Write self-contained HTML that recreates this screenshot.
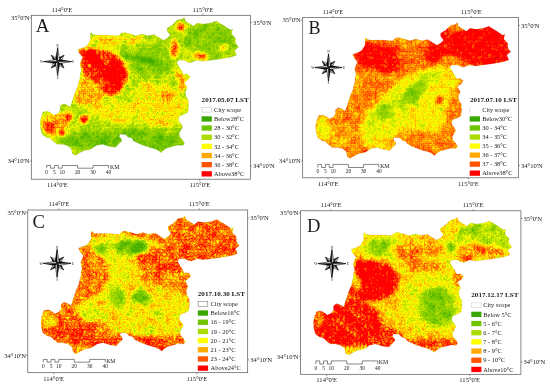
<!DOCTYPE html>
<html><head><meta charset="utf-8"><title>LST maps</title>
<style>html,body{margin:0;padding:0;background:#fff}svg{display:block}text{font-family:"Liberation Serif",serif;fill:#1a1a1a}</style>
</head><body>
<svg width="550" height="388" viewBox="0 0 550 388">
<rect width="550" height="388" fill="#fff"/>
<clipPath id="cA"><path d="M90.3,33.7 L91.3,32.6 L92.5,34.5 L96.4,35.1 L106.4,35.1 L118.5,35.7 L121.5,33.1 L124.5,32.5 L130.5,34.1 L136.0,35.7 L142.1,34.1 L148.1,35.7 L154.1,34.5 L158.2,37.1 L163.2,40.2 L167.2,38.2 L170.2,35.1 L167.2,31.1 L167.2,28.1 L172.2,25.1 L177.3,20.1 L182.7,19.0 L184.2,17.2 L185.3,21.1 L190.3,24.1 L193.3,26.1 L197.4,23.1 L203.4,24.1 L210.4,23.1 L216.5,21.1 L219.5,23.1 L224.5,26.1 L230.5,30.1 L232.6,29.1 L231.5,34.1 L235.6,38.2 L235.6,43.2 L238.6,47.2 L234.6,50.2 L236.6,55.2 L230.5,57.3 L224.5,58.3 L218.5,59.3 L210.4,60.3 L202.4,61.3 L196.4,60.3 L190.3,62.7 L187.3,61.9 L184.3,60.3 L178.3,60.3 L176.7,62.7 L179.3,67.3 L181.3,70.3 L183.3,74.3 L187.3,74.3 L190.3,76.4 L188.3,79.4 L184.3,82.4 L185.3,84.0 L187.3,88.0 L185.3,92.1 L186.3,97.1 L188.3,100.1 L188.7,106.1 L187.9,112.2 L184.3,114.2 L179.3,116.2 L178.3,120.2 L179.1,121.8 L181.5,124.5 L182.7,127.3 L180.9,130.0 L179.1,133.6 L180.0,137.3 L182.7,140.0 L184.5,143.6 L182.7,145.5 L178.2,145.1 L172.7,146.4 L166.4,148.2 L162.7,150.9 L160.9,152.7 L159.1,150.9 L154.5,148.7 L149.1,147.3 L143.6,145.5 L138.2,143.3 L133.6,140.9 L131.8,138.2 L128.2,137.3 L125.5,134.5 L120.0,134.2 L119.1,136.4 L120.9,138.2 L121.8,140.9 L119.1,143.6 L115.5,147.3 L109.4,146.4 L102.4,144.3 L96.4,145.4 L90.3,149.4 L84.3,150.4 L80.3,152.4 L75.2,155.4 L72.2,153.4 L71.2,148.4 L67.2,145.4 L62.2,144.3 L57.1,144.3 L53.1,141.3 L50.1,138.3 L46.1,137.3 L42.1,134.3 L40.5,128.3 L40.1,122.2 L41.1,117.2 L43.1,111.8 L47.1,111.2 L50.1,112.2 L54.1,115.2 L58.2,113.2 L60.2,110.2 L60.2,106.1 L63.2,103.7 L67.2,105.1 L70.2,107.1 L71.2,104.1 L73.2,98.1 L75.2,92.1 L77.9,86.0 L79.3,80.0 L80.0,78.0 L80.2,74.0 L81.3,70.3 L79.9,64.3 L81.3,60.3 L82.7,57.3 L79.3,53.2 L77.7,49.6 L84.3,47.2 L87.3,45.2 L90.3,40.2Z"/></clipPath>
<filter id="fA" filterUnits="userSpaceOnUse" x="34.1" y="11.2" width="210.5" height="150.2" color-interpolation-filters="sRGB">
<feGaussianBlur in="SourceGraphic" stdDeviation="2.0" result="b"/>
<feTurbulence type="fractalNoise" baseFrequency="0.7" numOctaves="2" seed="3" result="n"/>
<feColorMatrix in="n" type="matrix" values="1 0 0 0 0 1 0 0 0 0 1 0 0 0 0 0 0 0 0 1" result="n1"/>
<feTurbulence type="fractalNoise" baseFrequency="0.11" numOctaves="3" seed="10" result="m"/>
<feColorMatrix in="m" type="matrix" values="0 1 0 0 0 0 1 0 0 0 0 1 0 0 0 0 0 0 0 1" result="m1"/>
<feComposite in="b" in2="n1" operator="arithmetic" k1="0" k2="1" k3="0.14" k4="-0.0700" result="c1"/>
<feComposite in="c1" in2="m1" operator="arithmetic" k1="0" k2="1" k3="0.22" k4="-0.1100" result="c2"/>
<feTurbulence type="turbulence" baseFrequency="0.25" numOctaves="2" seed="16" result="t"/>
<feColorMatrix in="t" type="matrix" values="-1 0 0 0 1 -1 0 0 0 1 -1 0 0 0 1 0 0 0 0 1" result="t1"/>
<feComposite in="c2" in2="t1" operator="arithmetic" k1="0.6" k2="0.5800" k3="0" k4="0" result="c3"/>
<feComponentTransfer in="c3" result="q"><feFuncR type="table" tableValues="0.220 0.220 0.439 0.671 1.000 1.000 1.000 1.000 1.000 1.000"/><feFuncG type="table" tableValues="0.659 0.659 0.769 0.859 1.000 0.667 0.333 0.000 0.000 0.000"/><feFuncB type="table" tableValues="0.000 0.000 0.000 0.000 0.000 0.000 0.000 0.000 0.000 0.000"/></feComponentTransfer>
<feGaussianBlur in="q" stdDeviation="0.6"/>
</filter>
<g clip-path="url(#cA)"><g filter="url(#fA)"><rect x="24.1" y="1.2" width="230.5" height="170.2" fill="rgb(85,85,85)"/><ellipse cx="210" cy="40" rx="26" ry="17" fill="rgb(67,67,67)"/><ellipse cx="152" cy="62" rx="20" ry="18" fill="rgb(71,71,71)"/><ellipse cx="125" cy="141" rx="66" ry="11" fill="rgb(57,57,57)"/><ellipse cx="105" cy="41" rx="17" ry="6" fill="rgb(122,122,122)"/><ellipse cx="133" cy="40" rx="12" ry="4" fill="rgb(125,125,125)"/><ellipse cx="158" cy="104" rx="27" ry="22" fill="rgb(116,116,116)" transform="rotate(30 158 104)"/><ellipse cx="116" cy="112" rx="20" ry="12" fill="rgb(113,113,113)"/><ellipse cx="165" cy="96" rx="5" ry="3.5" fill="rgb(153,153,153)"/><ellipse cx="82" cy="92" rx="6" ry="13" fill="rgb(150,150,150)" transform="rotate(15 82 92)"/><ellipse cx="78" cy="94" rx="2.5" ry="5" fill="rgb(187,187,187)"/><ellipse cx="91" cy="96" rx="14" ry="13" fill="rgb(130,130,130)"/><polygon points="78,49.6 90.6,48 100.9,50 111.2,52.2 119.5,56.8 124.6,63 127.7,71.2 127.5,80 123,87 118.5,93 111.2,97 105,92.5 98.9,86 92.7,81.5 86.5,77.4 82.4,71.2 80.3,63 80.5,56.8" fill="rgb(190,190,190)"/><ellipse cx="93" cy="60" rx="10" ry="7" fill="rgb(241,241,241)" transform="rotate(30 93 60)"/><ellipse cx="112" cy="73" rx="10" ry="9" fill="rgb(241,241,241)" transform="rotate(50 112 73)"/><ellipse cx="117" cy="87" rx="4.5" ry="5.5" fill="rgb(227,227,227)"/><line x1="86" y1="60" x2="104" y2="84" stroke="rgb(113,113,113)" stroke-width="2.0" stroke-linecap="round"/><line x1="100" y1="56" x2="111" y2="67" stroke="rgb(113,113,113)" stroke-width="1.8" stroke-linecap="round"/><line x1="106" y1="80" x2="116" y2="92" stroke="rgb(128,128,128)" stroke-width="1.8" stroke-linecap="round"/><line x1="124" y1="56" x2="160" y2="62.5" stroke="rgb(0,0,0)" stroke-width="3.2" stroke-linecap="round"/><ellipse cx="174" cy="49" rx="3.0" ry="10" fill="rgb(181,181,181)" transform="rotate(5 174 49)"/><ellipse cx="180.5" cy="26.8" rx="2.8" ry="3.3" fill="rgb(255,255,255)"/><ellipse cx="200" cy="55.5" rx="8" ry="3" fill="rgb(187,187,187)" transform="rotate(10 200 55.5)"/><ellipse cx="224" cy="47" rx="4" ry="3" fill="rgb(153,153,153)"/><ellipse cx="183" cy="83" rx="3.5" ry="10" fill="rgb(150,150,150)"/><ellipse cx="178" cy="75" rx="2.5" ry="3" fill="rgb(159,159,159)"/><ellipse cx="56" cy="124" rx="15" ry="12" fill="rgb(136,136,136)"/><ellipse cx="49" cy="128" rx="5" ry="5.5" fill="rgb(198,198,198)"/><ellipse cx="62" cy="133" rx="3" ry="2.5" fill="rgb(227,227,227)"/><ellipse cx="68.5" cy="117" rx="2.8" ry="2.8" fill="rgb(255,255,255)"/><ellipse cx="84" cy="119.5" rx="3.6" ry="3.4" fill="rgb(255,255,255)"/></g></g>
<path d="M90.3,33.7 L91.3,32.6 L92.5,34.5 L96.4,35.1 L106.4,35.1 L118.5,35.7 L121.5,33.1 L124.5,32.5 L130.5,34.1 L136.0,35.7 L142.1,34.1 L148.1,35.7 L154.1,34.5 L158.2,37.1 L163.2,40.2 L167.2,38.2 L170.2,35.1 L167.2,31.1 L167.2,28.1 L172.2,25.1 L177.3,20.1 L182.7,19.0 L184.2,17.2 L185.3,21.1 L190.3,24.1 L193.3,26.1 L197.4,23.1 L203.4,24.1 L210.4,23.1 L216.5,21.1 L219.5,23.1 L224.5,26.1 L230.5,30.1 L232.6,29.1 L231.5,34.1 L235.6,38.2 L235.6,43.2 L238.6,47.2 L234.6,50.2 L236.6,55.2 L230.5,57.3 L224.5,58.3 L218.5,59.3 L210.4,60.3 L202.4,61.3 L196.4,60.3 L190.3,62.7 L187.3,61.9 L184.3,60.3 L178.3,60.3 L176.7,62.7 L179.3,67.3 L181.3,70.3 L183.3,74.3 L187.3,74.3 L190.3,76.4 L188.3,79.4 L184.3,82.4 L185.3,84.0 L187.3,88.0 L185.3,92.1 L186.3,97.1 L188.3,100.1 L188.7,106.1 L187.9,112.2 L184.3,114.2 L179.3,116.2 L178.3,120.2 L179.1,121.8 L181.5,124.5 L182.7,127.3 L180.9,130.0 L179.1,133.6 L180.0,137.3 L182.7,140.0 L184.5,143.6 L182.7,145.5 L178.2,145.1 L172.7,146.4 L166.4,148.2 L162.7,150.9 L160.9,152.7 L159.1,150.9 L154.5,148.7 L149.1,147.3 L143.6,145.5 L138.2,143.3 L133.6,140.9 L131.8,138.2 L128.2,137.3 L125.5,134.5 L120.0,134.2 L119.1,136.4 L120.9,138.2 L121.8,140.9 L119.1,143.6 L115.5,147.3 L109.4,146.4 L102.4,144.3 L96.4,145.4 L90.3,149.4 L84.3,150.4 L80.3,152.4 L75.2,155.4 L72.2,153.4 L71.2,148.4 L67.2,145.4 L62.2,144.3 L57.1,144.3 L53.1,141.3 L50.1,138.3 L46.1,137.3 L42.1,134.3 L40.5,128.3 L40.1,122.2 L41.1,117.2 L43.1,111.8 L47.1,111.2 L50.1,112.2 L54.1,115.2 L58.2,113.2 L60.2,110.2 L60.2,106.1 L63.2,103.7 L67.2,105.1 L70.2,107.1 L71.2,104.1 L73.2,98.1 L75.2,92.1 L77.9,86.0 L79.3,80.0 L80.0,78.0 L80.2,74.0 L81.3,70.3 L79.9,64.3 L81.3,60.3 L82.7,57.3 L79.3,53.2 L77.7,49.6 L84.3,47.2 L87.3,45.2 L90.3,40.2Z" fill="none" stroke="#4a3a10" stroke-opacity="0.2" stroke-width="0.4"/>
<rect x="31.3" y="15.3" width="219.2" height="163.9" fill="none" stroke="#555" stroke-width="0.7"/>
<line x1="61.8" y1="15.3" x2="61.8" y2="13.7" stroke="#555" stroke-width="0.6"/><text x="61.8" y="12.1" font-size="6.6" text-anchor="middle">114°0'E</text><line x1="202.9" y1="15.3" x2="202.9" y2="13.7" stroke="#555" stroke-width="0.6"/><text x="202.9" y="12.1" font-size="6.6" text-anchor="middle">115°0'E</text><line x1="57.3" y1="179.2" x2="57.3" y2="180.8" stroke="#555" stroke-width="0.6"/><text x="57.3" y="186.6" font-size="6.6" text-anchor="middle">114°0'E</text><line x1="199.8" y1="179.2" x2="199.8" y2="180.8" stroke="#555" stroke-width="0.6"/><text x="199.8" y="186.6" font-size="6.6" text-anchor="middle">115°0'E</text><line x1="31.3" y1="18.0" x2="29.7" y2="18.0" stroke="#555" stroke-width="0.6"/><text x="29.5" y="20.3" font-size="6.6" text-anchor="end">35°0'N</text><line x1="31.3" y1="161.1" x2="29.7" y2="161.1" stroke="#555" stroke-width="0.6"/><text x="29.5" y="163.4" font-size="6.6" text-anchor="end">34°10'N</text><line x1="250.5" y1="22.5" x2="252.1" y2="22.5" stroke="#555" stroke-width="0.6"/><text x="253.1" y="24.8" font-size="6.6">35°0'N</text><line x1="250.5" y1="166.0" x2="252.1" y2="166.0" stroke="#555" stroke-width="0.6"/><text x="253.1" y="168.3" font-size="6.6">34°10'N</text><text x="35.8" y="32.0" font-size="19.0">A</text>
<polygon points="57.60,61.60 57.60,58.19 64.03,55.17" fill="#000" stroke="#000" stroke-width="0.5"/><polygon points="57.60,61.60 61.01,61.60 64.03,55.17" fill="#ddd" stroke="#000" stroke-width="0.5"/><polygon points="57.60,61.60 61.01,61.60 64.03,68.03" fill="#000" stroke="#000" stroke-width="0.5"/><polygon points="57.60,61.60 57.60,65.01 64.03,68.03" fill="#ddd" stroke="#000" stroke-width="0.5"/><polygon points="57.60,61.60 57.60,65.01 51.17,68.03" fill="#000" stroke="#000" stroke-width="0.5"/><polygon points="57.60,61.60 54.19,61.60 51.17,68.03" fill="#ddd" stroke="#000" stroke-width="0.5"/><polygon points="57.60,61.60 54.19,61.60 51.17,55.17" fill="#000" stroke="#000" stroke-width="0.5"/><polygon points="57.60,61.60 57.60,58.19 51.17,55.17" fill="#ddd" stroke="#000" stroke-width="0.5"/><polygon points="57.60,61.60 55.59,59.59 57.60,47.68" fill="#000" stroke="#000" stroke-width="0.5"/><polygon points="57.60,61.60 59.61,59.59 57.60,47.68" fill="#ddd" stroke="#000" stroke-width="0.5"/><polygon points="57.60,61.60 59.61,59.59 71.52,61.60" fill="#000" stroke="#000" stroke-width="0.5"/><polygon points="57.60,61.60 59.61,63.61 71.52,61.60" fill="#ddd" stroke="#000" stroke-width="0.5"/><polygon points="57.60,61.60 59.61,63.61 57.60,75.52" fill="#000" stroke="#000" stroke-width="0.5"/><polygon points="57.60,61.60 55.59,63.61 57.60,75.52" fill="#ddd" stroke="#000" stroke-width="0.5"/><polygon points="57.60,61.60 55.59,63.61 43.68,61.60" fill="#000" stroke="#000" stroke-width="0.5"/><polygon points="57.60,61.60 55.59,59.59 43.68,61.60" fill="#ddd" stroke="#000" stroke-width="0.5"/><text x="57.6" y="46.8" font-size="3.4" text-anchor="middle">N</text><text x="57.6" y="78.8" font-size="3.4" text-anchor="middle">S</text><text x="41.6" y="62.7" font-size="3.4" text-anchor="middle">W</text><text x="73.4" y="62.7" font-size="3.4" text-anchor="middle">E</text>
<path d="M46.70,168.20 L46.70,165.50 L50.56,165.50 L50.56,168.20 L54.43,168.20 L54.43,165.50 L58.29,165.50 L58.29,168.20 L62.15,168.20 L62.15,165.50 L77.60,165.50 L77.60,168.20 L93.05,168.20 L93.05,165.50 L108.50,165.50 M108.50,165.50 L108.50,168.20" fill="none" stroke="#222" stroke-width="0.55"/><text x="46.7" y="173.9" font-size="5.4" text-anchor="middle">0</text><text x="54.4" y="173.9" font-size="5.4" text-anchor="middle">5</text><text x="62.2" y="173.9" font-size="5.4" text-anchor="middle">10</text><text x="77.6" y="173.9" font-size="5.4" text-anchor="middle">20</text><text x="93.0" y="173.9" font-size="5.4" text-anchor="middle">30</text><text x="108.5" y="173.9" font-size="5.4" text-anchor="middle">40</text><text x="110.0" y="169.0" font-size="5.8">KM</text>
<text x="201.6" y="102.2" font-size="7.1" font-weight="bold">2017.05.07 LST</text><rect x="201.9" y="107.4" width="9.7" height="4.7" fill="#fff" stroke="#bbb" stroke-width="0.5"/><text x="214.0" y="112.0" font-size="6.4">City scope</text><rect x="201.6" y="116.3" width="10.3" height="5.3" fill="#38A800"/><text x="214.0" y="121.1" font-size="6.4">Below28°C</text><rect x="201.6" y="125.4" width="10.3" height="5.3" fill="#70C400"/><text x="214.0" y="130.3" font-size="6.4">28 - 30°C</text><rect x="201.6" y="134.6" width="10.3" height="5.3" fill="#ABDB00"/><text x="214.0" y="139.4" font-size="6.4">30 - 32°C</text><rect x="201.6" y="143.7" width="10.3" height="5.3" fill="#FFFF00"/><text x="214.0" y="148.6" font-size="6.4">32 - 34°C</text><rect x="201.6" y="152.9" width="10.3" height="5.3" fill="#FFAA00"/><text x="214.0" y="157.7" font-size="6.4">34 - 36°C</text><rect x="201.6" y="162.0" width="10.3" height="5.3" fill="#FF5500"/><text x="214.0" y="166.9" font-size="6.4">36 - 38°C</text><rect x="201.6" y="171.2" width="10.3" height="5.3" fill="#FF0000"/><text x="214.0" y="176.0" font-size="6.4">Above38°C</text>
<clipPath id="cB"><path d="M365.0,38.7 L365.9,37.6 L367.1,39.5 L371.0,40.1 L380.8,40.1 L392.7,40.7 L395.6,38.1 L398.6,37.5 L404.5,39.1 L409.9,40.7 L415.9,39.1 L421.8,40.7 L427.7,39.5 L431.7,42.1 L436.6,45.1 L440.6,43.2 L443.5,40.1 L440.6,36.2 L440.6,33.2 L445.5,30.3 L450.5,25.4 L455.8,24.3 L457.3,22.5 L458.3,26.3 L463.3,29.3 L466.2,31.3 L470.2,28.3 L476.1,29.3 L483.0,28.3 L489.0,26.3 L492.0,28.3 L496.9,31.3 L502.8,35.2 L504.8,34.2 L503.8,39.1 L507.8,43.2 L507.8,48.1 L510.7,52.0 L506.8,54.9 L508.8,59.9 L502.8,61.9 L496.9,62.9 L491.0,63.9 L483.0,64.9 L475.2,65.9 L469.3,64.9 L463.3,67.2 L460.3,66.4 L457.4,64.9 L451.5,64.9 L449.9,67.2 L452.5,71.8 L454.4,74.7 L456.4,78.6 L460.3,78.6 L463.3,80.7 L461.3,83.7 L457.4,86.6 L458.3,88.2 L460.3,92.1 L458.3,96.1 L459.3,101.0 L461.3,104.0 L461.7,109.9 L460.9,115.9 L457.4,117.9 L452.5,119.8 L451.5,123.8 L452.3,125.3 L454.6,128.0 L455.8,130.7 L454.0,133.4 L452.3,136.9 L453.1,140.6 L455.8,143.2 L457.6,146.8 L455.8,148.6 L451.4,148.2 L446.0,149.5 L439.8,151.3 L436.1,153.9 L434.4,155.7 L432.6,153.9 L428.1,151.8 L422.8,150.4 L417.4,148.6 L412.1,146.5 L407.5,144.1 L405.8,141.5 L402.2,140.6 L399.6,137.8 L394.2,137.5 L393.3,139.7 L395.0,141.5 L395.9,144.1 L393.3,146.8 L389.7,150.4 L383.7,149.5 L376.9,147.4 L371.0,148.5 L365.0,152.5 L359.1,153.4 L355.1,155.4 L350.1,158.4 L347.2,156.4 L346.2,151.5 L342.3,148.5 L337.3,147.4 L332.3,147.4 L328.4,144.5 L325.4,141.5 L321.5,140.6 L317.6,137.6 L316.0,131.7 L315.6,125.7 L316.6,120.8 L318.6,115.5 L322.5,114.9 L325.4,115.9 L329.4,118.8 L333.4,116.9 L335.4,113.9 L335.4,109.9 L338.3,107.5 L342.3,108.9 L345.2,110.9 L346.2,107.9 L348.2,102.0 L350.1,96.1 L352.8,90.1 L354.2,84.2 L354.8,82.3 L355.0,78.3 L356.1,74.7 L354.7,68.8 L356.1,64.9 L357.5,61.9 L354.2,57.9 L352.6,54.4 L359.1,52.0 L362.0,50.0 L365.0,45.1Z"/></clipPath>
<filter id="fB" filterUnits="userSpaceOnUse" x="309.6" y="16.5" width="207.1" height="147.9" color-interpolation-filters="sRGB">
<feGaussianBlur in="SourceGraphic" stdDeviation="2.8" result="b"/>
<feTurbulence type="fractalNoise" baseFrequency="0.7" numOctaves="2" seed="11" result="n"/>
<feColorMatrix in="n" type="matrix" values="1 0 0 0 0 1 0 0 0 0 1 0 0 0 0 0 0 0 0 1" result="n1"/>
<feTurbulence type="fractalNoise" baseFrequency="0.11" numOctaves="3" seed="18" result="m"/>
<feColorMatrix in="m" type="matrix" values="0 1 0 0 0 0 1 0 0 0 0 1 0 0 0 0 0 0 0 1" result="m1"/>
<feComposite in="b" in2="n1" operator="arithmetic" k1="0" k2="1" k3="0.16" k4="-0.0800" result="c1"/>
<feComposite in="c1" in2="m1" operator="arithmetic" k1="0" k2="1" k3="0.22" k4="-0.1100" result="c2"/>
<feTurbulence type="turbulence" baseFrequency="0.25" numOctaves="2" seed="24" result="t"/>
<feColorMatrix in="t" type="matrix" values="-1 0 0 0 1 -1 0 0 0 1 -1 0 0 0 1 0 0 0 0 1" result="t1"/>
<feComposite in="c2" in2="t1" operator="arithmetic" k1="0.4" k2="0.7200" k3="0" k4="0" result="c3"/>
<feComponentTransfer in="c3" result="q"><feFuncR type="table" tableValues="0.220 0.220 0.439 0.671 1.000 1.000 1.000 1.000 1.000 1.000"/><feFuncG type="table" tableValues="0.659 0.659 0.769 0.859 1.000 0.667 0.333 0.000 0.000 0.000"/><feFuncB type="table" tableValues="0.000 0.000 0.000 0.000 0.000 0.000 0.000 0.000 0.000 0.000"/></feComponentTransfer>
<feGaussianBlur in="q" stdDeviation="0.6"/>
</filter>
<g clip-path="url(#cB)"><g filter="url(#fB)"><rect x="299.6" y="6.5" width="227.1" height="167.9" fill="rgb(149,149,149)"/><ellipse cx="400" cy="153" rx="42" ry="6" fill="rgb(167,167,167)"/><ellipse cx="395" cy="54" rx="40" ry="12" fill="rgb(162,162,162)"/><ellipse cx="337" cy="134" rx="17" ry="14" fill="rgb(139,139,139)"/><polygon points="354,55 365.5,42 379.4,46 393.4,48 400,60 398,71.4 386.4,73.7 374.8,69 363.2,66.8 356.2,62" fill="rgb(201,201,201)"/><ellipse cx="409" cy="50" rx="13" ry="9" fill="rgb(150,150,150)"/><ellipse cx="433" cy="55" rx="9" ry="9" fill="rgb(198,198,198)"/><ellipse cx="445" cy="42" rx="14" ry="14" fill="rgb(196,196,196)"/><ellipse cx="485" cy="45" rx="36" ry="21" fill="rgb(198,198,198)"/><polygon points="368,148 358,134 367,113 385,95 405,76 430,67 457,66 459,84 449,94 446,118 441,134 425,133 405,127 396,135 388,150" fill="rgb(113,113,113)"/><line x1="372" y1="124" x2="432" y2="77" stroke="rgb(94,94,94)" stroke-width="14" stroke-linecap="round"/><line x1="392" y1="118" x2="394" y2="134" stroke="rgb(94,94,94)" stroke-width="5" stroke-linecap="round"/><ellipse cx="383" cy="111" rx="8" ry="7" fill="rgb(71,71,71)"/><ellipse cx="414" cy="93" rx="9" ry="14" fill="rgb(71,71,71)" transform="rotate(35 414 93)"/><ellipse cx="323" cy="128" rx="8" ry="13" fill="rgb(113,113,113)"/><ellipse cx="432" cy="146" rx="28" ry="11" fill="rgb(150,150,150)" transform="rotate(8 432 146)"/><ellipse cx="455" cy="108" rx="5" ry="16" fill="rgb(150,150,150)"/><ellipse cx="439.8" cy="100" rx="2.6" ry="5" fill="rgb(204,204,204)"/><ellipse cx="343.5" cy="120.5" rx="2" ry="2" fill="rgb(212,212,212)"/></g></g>
<path d="M365.0,38.7 L365.9,37.6 L367.1,39.5 L371.0,40.1 L380.8,40.1 L392.7,40.7 L395.6,38.1 L398.6,37.5 L404.5,39.1 L409.9,40.7 L415.9,39.1 L421.8,40.7 L427.7,39.5 L431.7,42.1 L436.6,45.1 L440.6,43.2 L443.5,40.1 L440.6,36.2 L440.6,33.2 L445.5,30.3 L450.5,25.4 L455.8,24.3 L457.3,22.5 L458.3,26.3 L463.3,29.3 L466.2,31.3 L470.2,28.3 L476.1,29.3 L483.0,28.3 L489.0,26.3 L492.0,28.3 L496.9,31.3 L502.8,35.2 L504.8,34.2 L503.8,39.1 L507.8,43.2 L507.8,48.1 L510.7,52.0 L506.8,54.9 L508.8,59.9 L502.8,61.9 L496.9,62.9 L491.0,63.9 L483.0,64.9 L475.2,65.9 L469.3,64.9 L463.3,67.2 L460.3,66.4 L457.4,64.9 L451.5,64.9 L449.9,67.2 L452.5,71.8 L454.4,74.7 L456.4,78.6 L460.3,78.6 L463.3,80.7 L461.3,83.7 L457.4,86.6 L458.3,88.2 L460.3,92.1 L458.3,96.1 L459.3,101.0 L461.3,104.0 L461.7,109.9 L460.9,115.9 L457.4,117.9 L452.5,119.8 L451.5,123.8 L452.3,125.3 L454.6,128.0 L455.8,130.7 L454.0,133.4 L452.3,136.9 L453.1,140.6 L455.8,143.2 L457.6,146.8 L455.8,148.6 L451.4,148.2 L446.0,149.5 L439.8,151.3 L436.1,153.9 L434.4,155.7 L432.6,153.9 L428.1,151.8 L422.8,150.4 L417.4,148.6 L412.1,146.5 L407.5,144.1 L405.8,141.5 L402.2,140.6 L399.6,137.8 L394.2,137.5 L393.3,139.7 L395.0,141.5 L395.9,144.1 L393.3,146.8 L389.7,150.4 L383.7,149.5 L376.9,147.4 L371.0,148.5 L365.0,152.5 L359.1,153.4 L355.1,155.4 L350.1,158.4 L347.2,156.4 L346.2,151.5 L342.3,148.5 L337.3,147.4 L332.3,147.4 L328.4,144.5 L325.4,141.5 L321.5,140.6 L317.6,137.6 L316.0,131.7 L315.6,125.7 L316.6,120.8 L318.6,115.5 L322.5,114.9 L325.4,115.9 L329.4,118.8 L333.4,116.9 L335.4,113.9 L335.4,109.9 L338.3,107.5 L342.3,108.9 L345.2,110.9 L346.2,107.9 L348.2,102.0 L350.1,96.1 L352.8,90.1 L354.2,84.2 L354.8,82.3 L355.0,78.3 L356.1,74.7 L354.7,68.8 L356.1,64.9 L357.5,61.9 L354.2,57.9 L352.6,54.4 L359.1,52.0 L362.0,50.0 L365.0,45.1Z" fill="none" stroke="#4a3a10" stroke-opacity="0.2" stroke-width="0.4"/>
<rect x="302.7" y="17.5" width="215.7" height="160.3" fill="none" stroke="#555" stroke-width="0.7"/>
<line x1="332.8" y1="17.5" x2="332.8" y2="15.9" stroke="#555" stroke-width="0.6"/><text x="332.8" y="13.7" font-size="6.6" text-anchor="middle">114°0'E</text><line x1="471.3" y1="17.5" x2="471.3" y2="15.9" stroke="#555" stroke-width="0.6"/><text x="471.3" y="13.7" font-size="6.6" text-anchor="middle">115°0'E</text><line x1="328.1" y1="177.8" x2="328.1" y2="179.4" stroke="#555" stroke-width="0.6"/><text x="328.1" y="185.8" font-size="6.6" text-anchor="middle">114°0'E</text><line x1="468.3" y1="177.8" x2="468.3" y2="179.4" stroke="#555" stroke-width="0.6"/><text x="468.3" y="185.8" font-size="6.6" text-anchor="middle">115°0'E</text><line x1="302.7" y1="20.0" x2="301.1" y2="20.0" stroke="#555" stroke-width="0.6"/><text x="300.9" y="22.3" font-size="6.6" text-anchor="end">35°0'N</text><line x1="302.7" y1="161.1" x2="301.1" y2="161.1" stroke="#555" stroke-width="0.6"/><text x="300.9" y="163.4" font-size="6.6" text-anchor="end">34°10'N</text><line x1="518.4" y1="25.5" x2="520.0" y2="25.5" stroke="#555" stroke-width="0.6"/><text x="521.0" y="27.8" font-size="6.6">35°0'N</text><line x1="518.4" y1="165.3" x2="520.0" y2="165.3" stroke="#555" stroke-width="0.6"/><text x="521.0" y="167.6" font-size="6.6">34°10'N</text><text x="308.6" y="33.8" font-size="18.0">B</text>
<polygon points="328.50,67.50 328.50,64.16 334.79,61.21" fill="#000" stroke="#000" stroke-width="0.5"/><polygon points="328.50,67.50 331.84,67.50 334.79,61.21" fill="#ddd" stroke="#000" stroke-width="0.5"/><polygon points="328.50,67.50 331.84,67.50 334.79,73.79" fill="#000" stroke="#000" stroke-width="0.5"/><polygon points="328.50,67.50 328.50,70.84 334.79,73.79" fill="#ddd" stroke="#000" stroke-width="0.5"/><polygon points="328.50,67.50 328.50,70.84 322.21,73.79" fill="#000" stroke="#000" stroke-width="0.5"/><polygon points="328.50,67.50 325.16,67.50 322.21,73.79" fill="#ddd" stroke="#000" stroke-width="0.5"/><polygon points="328.50,67.50 325.16,67.50 322.21,61.21" fill="#000" stroke="#000" stroke-width="0.5"/><polygon points="328.50,67.50 328.50,64.16 322.21,61.21" fill="#ddd" stroke="#000" stroke-width="0.5"/><polygon points="328.50,67.50 326.53,65.53 328.50,53.88" fill="#000" stroke="#000" stroke-width="0.5"/><polygon points="328.50,67.50 330.47,65.53 328.50,53.88" fill="#ddd" stroke="#000" stroke-width="0.5"/><polygon points="328.50,67.50 330.47,65.53 342.12,67.50" fill="#000" stroke="#000" stroke-width="0.5"/><polygon points="328.50,67.50 330.47,69.47 342.12,67.50" fill="#ddd" stroke="#000" stroke-width="0.5"/><polygon points="328.50,67.50 330.47,69.47 328.50,81.12" fill="#000" stroke="#000" stroke-width="0.5"/><polygon points="328.50,67.50 326.53,69.47 328.50,81.12" fill="#ddd" stroke="#000" stroke-width="0.5"/><polygon points="328.50,67.50 326.53,69.47 314.88,67.50" fill="#000" stroke="#000" stroke-width="0.5"/><polygon points="328.50,67.50 326.53,65.53 314.88,67.50" fill="#ddd" stroke="#000" stroke-width="0.5"/><text x="328.5" y="53.0" font-size="3.4" text-anchor="middle">N</text><text x="328.5" y="84.4" font-size="3.4" text-anchor="middle">S</text><text x="312.8" y="68.6" font-size="3.4" text-anchor="middle">W</text><text x="344.0" y="68.6" font-size="3.4" text-anchor="middle">E</text>
<path d="M317.80,167.50 L317.80,164.40 L321.62,164.40 L321.62,167.50 L325.44,167.50 L325.44,164.40 L329.26,164.40 L329.26,167.50 L333.07,167.50 L333.07,164.40 L348.35,164.40 L348.35,167.50 L363.62,167.50 L363.62,164.40 L378.90,164.40 M378.90,164.40 L378.90,167.50" fill="none" stroke="#222" stroke-width="0.55"/><text x="317.8" y="172.6" font-size="5.4" text-anchor="middle">0</text><text x="325.4" y="172.6" font-size="5.4" text-anchor="middle">5</text><text x="333.1" y="172.6" font-size="5.4" text-anchor="middle">10</text><text x="348.4" y="172.6" font-size="5.4" text-anchor="middle">20</text><text x="363.6" y="172.6" font-size="5.4" text-anchor="middle">30</text><text x="378.9" y="172.6" font-size="5.4" text-anchor="middle">40</text><text x="380.2" y="168.2" font-size="5.8">KM</text>
<text x="469.9" y="101.9" font-size="7.1" font-weight="bold">2017.07.10 LST</text><line x1="470.0" y1="107.2" x2="470.0" y2="112.6" stroke="#999" stroke-width="0.4"/><text x="482.2" y="112.1" font-size="6.4">City scope</text><rect x="469.7" y="116.3" width="10.3" height="5.3" fill="#38A800"/><text x="482.2" y="121.1" font-size="6.4">Below30°C</text><rect x="469.7" y="125.3" width="10.3" height="5.3" fill="#70C400"/><text x="482.2" y="130.2" font-size="6.4">30 - 34°C</text><rect x="469.7" y="134.4" width="10.3" height="5.3" fill="#ABDB00"/><text x="482.2" y="139.2" font-size="6.4">34 - 35°C</text><rect x="469.7" y="143.4" width="10.3" height="5.3" fill="#FFFF00"/><text x="482.2" y="148.3" font-size="6.4">35 - 36°C</text><rect x="469.7" y="152.5" width="10.3" height="5.3" fill="#FFAA00"/><text x="482.2" y="157.3" font-size="6.4">36 - 37°C</text><rect x="469.7" y="161.5" width="10.3" height="5.3" fill="#FF5500"/><text x="482.2" y="166.4" font-size="6.4">37 - 38°C</text><rect x="469.7" y="170.5" width="10.3" height="5.3" fill="#FF0000"/><text x="482.2" y="175.4" font-size="6.4">Above38°C</text>
<clipPath id="cC"><path d="M91.1,232.2 L92.1,231.1 L93.3,233.0 L97.2,233.6 L107.2,233.6 L119.3,234.2 L122.3,231.6 L125.3,231.0 L131.3,232.6 L136.8,234.2 L142.9,232.6 L148.9,234.2 L154.9,233.0 L159.0,235.6 L164.0,238.7 L168.0,236.7 L171.0,233.6 L168.0,229.6 L168.0,226.6 L173.0,223.6 L178.1,218.6 L183.5,217.5 L185.0,215.7 L186.1,219.6 L191.1,222.6 L194.1,224.6 L198.2,221.6 L204.2,222.6 L211.2,221.6 L217.3,219.6 L220.3,221.6 L225.3,224.6 L231.3,228.6 L233.4,227.6 L232.3,232.6 L236.4,236.7 L236.4,241.7 L239.4,245.7 L235.4,248.7 L237.4,253.7 L231.3,255.8 L225.3,256.8 L219.3,257.8 L211.2,258.8 L203.2,259.8 L197.2,258.8 L191.1,261.2 L188.1,260.4 L185.1,258.8 L179.1,258.8 L177.5,261.2 L180.1,265.8 L182.1,268.8 L184.1,272.8 L188.1,272.8 L191.1,274.9 L189.1,277.9 L185.1,280.9 L186.1,282.5 L188.1,286.5 L186.1,290.6 L187.1,295.6 L189.1,298.6 L189.5,304.6 L188.7,310.7 L185.1,312.7 L180.1,314.7 L179.1,318.7 L179.9,320.3 L182.3,323.0 L183.5,325.8 L181.7,328.5 L179.9,332.1 L180.8,335.8 L183.5,338.5 L185.3,342.1 L183.5,344.0 L179.0,343.6 L173.5,344.9 L167.2,346.7 L163.5,349.4 L161.7,351.2 L159.9,349.4 L155.3,347.2 L149.9,345.8 L144.4,344.0 L139.0,341.8 L134.4,339.4 L132.6,336.7 L129.0,335.8 L126.3,333.0 L120.8,332.7 L119.9,334.9 L121.7,336.7 L122.6,339.4 L119.9,342.1 L116.3,345.8 L110.2,344.9 L103.2,342.8 L97.2,343.9 L91.1,347.9 L85.1,348.9 L81.1,350.9 L76.0,353.9 L73.0,351.9 L72.0,346.9 L68.0,343.9 L63.0,342.8 L57.9,342.8 L53.9,339.8 L50.9,336.8 L46.9,335.8 L42.9,332.8 L41.3,326.8 L40.9,320.7 L41.9,315.7 L43.9,310.3 L47.9,309.7 L50.9,310.7 L54.9,313.7 L59.0,311.7 L61.0,308.7 L61.0,304.6 L64.0,302.2 L68.0,303.6 L71.0,305.6 L72.0,302.6 L74.0,296.6 L76.0,290.6 L78.7,284.5 L80.1,278.5 L80.8,276.5 L81.0,272.5 L82.1,268.8 L80.7,262.8 L82.1,258.8 L83.5,255.8 L80.1,251.7 L78.5,248.1 L85.1,245.7 L88.1,243.7 L91.1,238.7Z"/></clipPath>
<filter id="fC" filterUnits="userSpaceOnUse" x="34.9" y="209.7" width="210.5" height="150.2" color-interpolation-filters="sRGB">
<feGaussianBlur in="SourceGraphic" stdDeviation="2.2" result="b"/>
<feTurbulence type="fractalNoise" baseFrequency="0.7" numOctaves="2" seed="21" result="n"/>
<feColorMatrix in="n" type="matrix" values="1 0 0 0 0 1 0 0 0 0 1 0 0 0 0 0 0 0 0 1" result="n1"/>
<feTurbulence type="fractalNoise" baseFrequency="0.11" numOctaves="3" seed="28" result="m"/>
<feColorMatrix in="m" type="matrix" values="0 1 0 0 0 0 1 0 0 0 0 1 0 0 0 0 0 0 0 1" result="m1"/>
<feComposite in="b" in2="n1" operator="arithmetic" k1="0" k2="1" k3="0.22" k4="-0.1100" result="c1"/>
<feComposite in="c1" in2="m1" operator="arithmetic" k1="0" k2="1" k3="0.3" k4="-0.1500" result="c2"/>
<feTurbulence type="turbulence" baseFrequency="0.3" numOctaves="2" seed="34" result="t"/>
<feColorMatrix in="t" type="matrix" values="-1 0 0 0 1 -1 0 0 0 1 -1 0 0 0 1 0 0 0 0 1" result="t1"/>
<feComposite in="c2" in2="t1" operator="arithmetic" k1="0.6" k2="0.5800" k3="0" k4="0" result="c3"/>
<feComponentTransfer in="c3" result="q"><feFuncR type="table" tableValues="0.220 0.220 0.439 0.671 1.000 1.000 1.000 1.000 1.000 1.000"/><feFuncG type="table" tableValues="0.659 0.659 0.769 0.859 1.000 0.667 0.333 0.000 0.000 0.000"/><feFuncB type="table" tableValues="0.000 0.000 0.000 0.000 0.000 0.000 0.000 0.000 0.000 0.000"/></feComponentTransfer>
<feGaussianBlur in="q" stdDeviation="0.6"/>
</filter>
<g clip-path="url(#cC)"><g filter="url(#fC)"><rect x="24.9" y="199.7" width="230.5" height="170.2" fill="rgb(147,147,147)"/><polygon points="92,236 150,236 165,246 152,262 141,280 150,292 187,300 187,330 150,340 120,332 100,322 84,320 76,310 90,296 104,288 110,270 100,258 92,248" fill="rgb(116,116,116)"/><ellipse cx="205" cy="240" rx="35" ry="20" fill="rgb(162,162,162)"/><ellipse cx="160" cy="261" rx="24" ry="14" fill="rgb(162,162,162)"/><ellipse cx="150" cy="235" rx="20" ry="3" fill="rgb(159,159,159)"/><ellipse cx="95" cy="276" rx="13" ry="20" fill="rgb(153,153,153)" transform="rotate(10 95 276)"/><ellipse cx="75" cy="268" rx="4" ry="14" fill="rgb(125,125,125)"/><ellipse cx="72" cy="330" rx="26" ry="14" fill="rgb(170,170,170)" transform="rotate(10 72 330)"/><ellipse cx="140" cy="344" rx="52" ry="8" fill="rgb(170,170,170)"/><ellipse cx="49" cy="320" rx="7" ry="9" fill="rgb(122,122,122)"/><ellipse cx="120" cy="246" rx="30" ry="10" fill="rgb(99,99,99)"/><ellipse cx="132" cy="247" rx="17" ry="6.5" fill="rgb(45,45,45)"/><ellipse cx="102" cy="249" rx="7" ry="6" fill="rgb(71,71,71)"/><ellipse cx="120" cy="272" rx="12" ry="14" fill="rgb(110,110,110)"/><ellipse cx="160" cy="310" rx="28" ry="22" fill="rgb(113,113,113)"/><ellipse cx="117" cy="298" rx="8" ry="11" fill="rgb(71,71,71)"/><ellipse cx="141" cy="297" rx="10" ry="5.5" fill="rgb(45,45,45)"/><ellipse cx="88" cy="314" rx="8" ry="7" fill="rgb(91,91,91)"/></g></g>
<path d="M91.1,232.2 L92.1,231.1 L93.3,233.0 L97.2,233.6 L107.2,233.6 L119.3,234.2 L122.3,231.6 L125.3,231.0 L131.3,232.6 L136.8,234.2 L142.9,232.6 L148.9,234.2 L154.9,233.0 L159.0,235.6 L164.0,238.7 L168.0,236.7 L171.0,233.6 L168.0,229.6 L168.0,226.6 L173.0,223.6 L178.1,218.6 L183.5,217.5 L185.0,215.7 L186.1,219.6 L191.1,222.6 L194.1,224.6 L198.2,221.6 L204.2,222.6 L211.2,221.6 L217.3,219.6 L220.3,221.6 L225.3,224.6 L231.3,228.6 L233.4,227.6 L232.3,232.6 L236.4,236.7 L236.4,241.7 L239.4,245.7 L235.4,248.7 L237.4,253.7 L231.3,255.8 L225.3,256.8 L219.3,257.8 L211.2,258.8 L203.2,259.8 L197.2,258.8 L191.1,261.2 L188.1,260.4 L185.1,258.8 L179.1,258.8 L177.5,261.2 L180.1,265.8 L182.1,268.8 L184.1,272.8 L188.1,272.8 L191.1,274.9 L189.1,277.9 L185.1,280.9 L186.1,282.5 L188.1,286.5 L186.1,290.6 L187.1,295.6 L189.1,298.6 L189.5,304.6 L188.7,310.7 L185.1,312.7 L180.1,314.7 L179.1,318.7 L179.9,320.3 L182.3,323.0 L183.5,325.8 L181.7,328.5 L179.9,332.1 L180.8,335.8 L183.5,338.5 L185.3,342.1 L183.5,344.0 L179.0,343.6 L173.5,344.9 L167.2,346.7 L163.5,349.4 L161.7,351.2 L159.9,349.4 L155.3,347.2 L149.9,345.8 L144.4,344.0 L139.0,341.8 L134.4,339.4 L132.6,336.7 L129.0,335.8 L126.3,333.0 L120.8,332.7 L119.9,334.9 L121.7,336.7 L122.6,339.4 L119.9,342.1 L116.3,345.8 L110.2,344.9 L103.2,342.8 L97.2,343.9 L91.1,347.9 L85.1,348.9 L81.1,350.9 L76.0,353.9 L73.0,351.9 L72.0,346.9 L68.0,343.9 L63.0,342.8 L57.9,342.8 L53.9,339.8 L50.9,336.8 L46.9,335.8 L42.9,332.8 L41.3,326.8 L40.9,320.7 L41.9,315.7 L43.9,310.3 L47.9,309.7 L50.9,310.7 L54.9,313.7 L59.0,311.7 L61.0,308.7 L61.0,304.6 L64.0,302.2 L68.0,303.6 L71.0,305.6 L72.0,302.6 L74.0,296.6 L76.0,290.6 L78.7,284.5 L80.1,278.5 L80.8,276.5 L81.0,272.5 L82.1,268.8 L80.7,262.8 L82.1,258.8 L83.5,255.8 L80.1,251.7 L78.5,248.1 L85.1,245.7 L88.1,243.7 L91.1,238.7Z" fill="none" stroke="#4a3a10" stroke-opacity="0.2" stroke-width="0.4"/>
<rect x="27.8" y="210.0" width="219.9" height="162.7" fill="none" stroke="#555" stroke-width="0.7"/>
<line x1="58.8" y1="210.0" x2="58.8" y2="208.4" stroke="#555" stroke-width="0.6"/><text x="58.8" y="206.4" font-size="6.6" text-anchor="middle">114°0'E</text><line x1="199.3" y1="210.0" x2="199.3" y2="208.4" stroke="#555" stroke-width="0.6"/><text x="199.3" y="206.4" font-size="6.6" text-anchor="middle">115°0'E</text><line x1="53.6" y1="372.7" x2="53.6" y2="374.3" stroke="#555" stroke-width="0.6"/><text x="53.6" y="381.1" font-size="6.6" text-anchor="middle">114°0'E</text><line x1="196.9" y1="372.7" x2="196.9" y2="374.3" stroke="#555" stroke-width="0.6"/><text x="196.9" y="381.1" font-size="6.6" text-anchor="middle">115°0'E</text><line x1="27.8" y1="212.4" x2="26.2" y2="212.4" stroke="#555" stroke-width="0.6"/><text x="26.0" y="214.7" font-size="6.6" text-anchor="end">35°0'N</text><line x1="27.8" y1="355.5" x2="26.2" y2="355.5" stroke="#555" stroke-width="0.6"/><text x="26.0" y="357.8" font-size="6.6" text-anchor="end">34°10'N</text><line x1="247.7" y1="218.0" x2="249.3" y2="218.0" stroke="#555" stroke-width="0.6"/><text x="250.3" y="220.3" font-size="6.6">35°0'N</text><line x1="247.7" y1="359.9" x2="249.3" y2="359.9" stroke="#555" stroke-width="0.6"/><text x="250.3" y="362.2" font-size="6.6">34°10'N</text><text x="32.6" y="227.5" font-size="18.5">C</text>
<polygon points="57.10,263.40 57.10,259.99 63.53,256.97" fill="#000" stroke="#000" stroke-width="0.5"/><polygon points="57.10,263.40 60.51,263.40 63.53,256.97" fill="#ddd" stroke="#000" stroke-width="0.5"/><polygon points="57.10,263.40 60.51,263.40 63.53,269.83" fill="#000" stroke="#000" stroke-width="0.5"/><polygon points="57.10,263.40 57.10,266.81 63.53,269.83" fill="#ddd" stroke="#000" stroke-width="0.5"/><polygon points="57.10,263.40 57.10,266.81 50.67,269.83" fill="#000" stroke="#000" stroke-width="0.5"/><polygon points="57.10,263.40 53.69,263.40 50.67,269.83" fill="#ddd" stroke="#000" stroke-width="0.5"/><polygon points="57.10,263.40 53.69,263.40 50.67,256.97" fill="#000" stroke="#000" stroke-width="0.5"/><polygon points="57.10,263.40 57.10,259.99 50.67,256.97" fill="#ddd" stroke="#000" stroke-width="0.5"/><polygon points="57.10,263.40 55.09,261.39 57.10,249.48" fill="#000" stroke="#000" stroke-width="0.5"/><polygon points="57.10,263.40 59.11,261.39 57.10,249.48" fill="#ddd" stroke="#000" stroke-width="0.5"/><polygon points="57.10,263.40 59.11,261.39 71.02,263.40" fill="#000" stroke="#000" stroke-width="0.5"/><polygon points="57.10,263.40 59.11,265.41 71.02,263.40" fill="#ddd" stroke="#000" stroke-width="0.5"/><polygon points="57.10,263.40 59.11,265.41 57.10,277.32" fill="#000" stroke="#000" stroke-width="0.5"/><polygon points="57.10,263.40 55.09,265.41 57.10,277.32" fill="#ddd" stroke="#000" stroke-width="0.5"/><polygon points="57.10,263.40 55.09,265.41 43.18,263.40" fill="#000" stroke="#000" stroke-width="0.5"/><polygon points="57.10,263.40 55.09,261.39 43.18,263.40" fill="#ddd" stroke="#000" stroke-width="0.5"/><text x="57.1" y="248.6" font-size="3.4" text-anchor="middle">N</text><text x="57.1" y="280.6" font-size="3.4" text-anchor="middle">S</text><text x="41.1" y="264.5" font-size="3.4" text-anchor="middle">W</text><text x="72.9" y="264.5" font-size="3.4" text-anchor="middle">E</text>
<path d="M43.30,362.20 L43.30,359.40 L47.17,359.40 L47.17,362.20 L51.04,362.20 L51.04,359.40 L54.91,359.40 L54.91,362.20 L58.77,362.20 L58.77,359.40 L74.25,359.40 L74.25,362.20 L89.72,362.20 L89.72,359.40 L105.20,359.40 M105.20,359.40 L105.20,362.20" fill="none" stroke="#222" stroke-width="0.55"/><text x="43.3" y="367.8" font-size="5.4" text-anchor="middle">0</text><text x="51.0" y="367.8" font-size="5.4" text-anchor="middle">5</text><text x="58.8" y="367.8" font-size="5.4" text-anchor="middle">10</text><text x="74.2" y="367.8" font-size="5.4" text-anchor="middle">20</text><text x="89.7" y="367.8" font-size="5.4" text-anchor="middle">30</text><text x="105.2" y="367.8" font-size="5.4" text-anchor="middle">40</text><text x="106.2" y="362.7" font-size="5.8">KM</text>
<text x="197.8" y="295.9" font-size="7.1" font-weight="bold">2017.10.30 LST</text><rect x="198.1" y="301.6" width="9.7" height="4.7" fill="#fff" stroke="#666" stroke-width="0.5"/><text x="210.6" y="306.1" font-size="6.4">City scope</text><rect x="197.8" y="310.4" width="10.3" height="5.3" fill="#38A800"/><text x="210.6" y="315.3" font-size="6.4">Below16°C</text><rect x="197.8" y="319.6" width="10.3" height="5.3" fill="#70C400"/><text x="210.6" y="324.4" font-size="6.4">16 - 19°C</text><rect x="197.8" y="328.8" width="10.3" height="5.3" fill="#ABDB00"/><text x="210.6" y="333.6" font-size="6.4">19 - 20°C</text><rect x="197.8" y="337.9" width="10.3" height="5.3" fill="#FFFF00"/><text x="210.6" y="342.8" font-size="6.4">20 - 21°C</text><rect x="197.8" y="347.1" width="10.3" height="5.3" fill="#FFAA00"/><text x="210.6" y="352.0" font-size="6.4">21 - 23°C</text><rect x="197.8" y="356.3" width="10.3" height="5.3" fill="#FF5500"/><text x="210.6" y="361.1" font-size="6.4">23 - 24°C</text><rect x="197.8" y="365.5" width="10.3" height="5.3" fill="#FF0000"/><text x="210.6" y="370.3" font-size="6.4">Above24°C</text>
<clipPath id="cD"><path d="M363.6,233.5 L364.6,232.4 L365.8,234.3 L369.7,234.9 L379.7,234.9 L391.8,235.5 L394.8,232.9 L397.8,232.3 L403.8,233.9 L409.3,235.5 L415.4,233.9 L421.4,235.5 L427.4,234.3 L431.5,236.9 L436.5,240.0 L440.5,238.0 L443.5,234.9 L440.5,230.9 L440.5,227.9 L445.5,224.9 L450.6,219.9 L456.0,218.8 L457.5,217.0 L458.6,220.9 L463.6,223.9 L466.6,225.9 L470.7,222.9 L476.7,223.9 L483.7,222.9 L489.8,220.9 L492.8,222.9 L497.8,225.9 L503.8,229.9 L505.9,228.9 L504.8,233.9 L508.9,238.0 L508.9,243.0 L511.9,247.0 L507.9,250.0 L509.9,255.0 L503.8,257.1 L497.8,258.1 L491.8,259.1 L483.7,260.1 L475.7,261.1 L469.7,260.1 L463.6,262.5 L460.6,261.7 L457.6,260.1 L451.6,260.1 L450.0,262.5 L452.6,267.1 L454.6,270.1 L456.6,274.1 L460.6,274.1 L463.6,276.2 L461.6,279.2 L457.6,282.2 L458.6,283.8 L460.6,287.8 L458.6,291.9 L459.6,296.9 L461.6,299.9 L462.0,305.9 L461.2,312.0 L457.6,314.0 L452.6,316.0 L451.6,320.0 L452.4,321.6 L454.8,324.3 L456.0,327.1 L454.2,329.8 L452.4,333.4 L453.3,337.1 L456.0,339.8 L457.8,343.4 L456.0,345.3 L451.5,344.9 L446.0,346.2 L439.7,348.0 L436.0,350.7 L434.2,352.5 L432.4,350.7 L427.8,348.5 L422.4,347.1 L416.9,345.3 L411.5,343.1 L406.9,340.7 L405.1,338.0 L401.5,337.1 L398.8,334.3 L393.3,334.0 L392.4,336.2 L394.2,338.0 L395.1,340.7 L392.4,343.4 L388.8,347.1 L382.7,346.2 L375.7,344.1 L369.7,345.2 L363.6,349.2 L357.6,350.2 L353.6,352.2 L348.5,355.2 L345.5,353.2 L344.5,348.2 L340.5,345.2 L335.5,344.1 L330.4,344.1 L326.4,341.1 L323.4,338.1 L319.4,337.1 L315.4,334.1 L313.8,328.1 L313.4,322.0 L314.4,317.0 L316.4,311.6 L320.4,311.0 L323.4,312.0 L327.4,315.0 L331.5,313.0 L333.5,310.0 L333.5,305.9 L336.5,303.5 L340.5,304.9 L343.5,306.9 L344.5,303.9 L346.5,297.9 L348.5,291.9 L351.2,285.8 L352.6,279.8 L353.3,277.8 L353.5,273.8 L354.6,270.1 L353.2,264.1 L354.6,260.1 L356.0,257.1 L352.6,253.0 L351.0,249.4 L357.6,247.0 L360.6,245.0 L363.6,240.0Z"/></clipPath>
<filter id="fD" filterUnits="userSpaceOnUse" x="307.4" y="211.0" width="210.5" height="150.2" color-interpolation-filters="sRGB">
<feGaussianBlur in="SourceGraphic" stdDeviation="2.1" result="b"/>
<feTurbulence type="fractalNoise" baseFrequency="0.7" numOctaves="2" seed="31" result="n"/>
<feColorMatrix in="n" type="matrix" values="1 0 0 0 0 1 0 0 0 0 1 0 0 0 0 0 0 0 0 1" result="n1"/>
<feTurbulence type="fractalNoise" baseFrequency="0.11" numOctaves="3" seed="38" result="m"/>
<feColorMatrix in="m" type="matrix" values="0 1 0 0 0 0 1 0 0 0 0 1 0 0 0 0 0 0 0 1" result="m1"/>
<feComposite in="b" in2="n1" operator="arithmetic" k1="0" k2="1" k3="0.2" k4="-0.1000" result="c1"/>
<feComposite in="c1" in2="m1" operator="arithmetic" k1="0" k2="1" k3="0.25" k4="-0.1250" result="c2"/>
<feTurbulence type="turbulence" baseFrequency="0.28" numOctaves="2" seed="44" result="t"/>
<feColorMatrix in="t" type="matrix" values="-1 0 0 0 1 -1 0 0 0 1 -1 0 0 0 1 0 0 0 0 1" result="t1"/>
<feComposite in="c2" in2="t1" operator="arithmetic" k1="0.6" k2="0.5800" k3="0" k4="0" result="c3"/>
<feComponentTransfer in="c3" result="q"><feFuncR type="table" tableValues="0.220 0.220 0.439 0.671 1.000 1.000 1.000 1.000 1.000 1.000"/><feFuncG type="table" tableValues="0.659 0.659 0.769 0.859 1.000 0.667 0.333 0.000 0.000 0.000"/><feFuncB type="table" tableValues="0.000 0.000 0.000 0.000 0.000 0.000 0.000 0.000 0.000 0.000"/></feComponentTransfer>
<feGaussianBlur in="q" stdDeviation="0.6"/>
</filter>
<g clip-path="url(#cD)"><g filter="url(#fD)"><rect x="297.4" y="201.0" width="230.5" height="170.2" fill="rgb(120,120,120)"/><ellipse cx="425" cy="345" rx="36" ry="7" fill="rgb(170,170,170)"/><ellipse cx="378" cy="337" rx="24" ry="12" fill="rgb(184,184,184)"/><ellipse cx="347" cy="323" rx="35" ry="24" fill="rgb(193,193,193)"/><ellipse cx="320" cy="320" rx="2.5" ry="9" fill="rgb(125,125,125)"/><ellipse cx="370" cy="291" rx="22" ry="10" fill="rgb(204,204,204)"/><polygon points="356.2,262 370.2,259.8 386.4,264.4 396.8,273.7 398,285.3 391,294.6 381.8,297 372.5,290 363.2,283 356.2,273.7" fill="rgb(221,221,221)"/><line x1="364" y1="268" x2="384" y2="293" stroke="rgb(119,119,119)" stroke-width="1.8" stroke-linecap="round"/><line x1="377" y1="263" x2="393" y2="282" stroke="rgb(125,125,125)" stroke-width="1.6" stroke-linecap="round"/><line x1="335" y1="318" x2="360" y2="338" stroke="rgb(125,125,125)" stroke-width="1.8" stroke-linecap="round"/><line x1="350" y1="308" x2="372" y2="326" stroke="rgb(130,130,130)" stroke-width="1.6" stroke-linecap="round"/><ellipse cx="357" cy="285" rx="4" ry="8" fill="rgb(125,125,125)"/><ellipse cx="434" cy="301" rx="34" ry="30" fill="rgb(108,108,108)"/><ellipse cx="437" cy="306" rx="18" ry="20" fill="rgb(65,65,65)"/><ellipse cx="385" cy="247" rx="24" ry="9" fill="rgb(102,102,102)"/><ellipse cx="379" cy="248" rx="11" ry="8.5" fill="rgb(68,68,68)"/><ellipse cx="418" cy="258" rx="24" ry="11" fill="rgb(150,150,150)" transform="rotate(25 418 258)"/><ellipse cx="485" cy="238" rx="30" ry="16" fill="rgb(91,91,91)"/><ellipse cx="480" cy="229" rx="20" ry="6" fill="rgb(79,79,79)"/><ellipse cx="450" cy="247" rx="4" ry="5" fill="rgb(37,37,37)"/><ellipse cx="482" cy="250" rx="22" ry="5" fill="rgb(156,156,156)" transform="rotate(8 482 250)"/><ellipse cx="466" cy="258" rx="7" ry="3" fill="rgb(176,176,176)"/><ellipse cx="458" cy="277" rx="4" ry="12" fill="rgb(159,159,159)"/><ellipse cx="430" cy="250" rx="9" ry="18" fill="rgb(136,136,136)"/></g></g>
<path d="M363.6,233.5 L364.6,232.4 L365.8,234.3 L369.7,234.9 L379.7,234.9 L391.8,235.5 L394.8,232.9 L397.8,232.3 L403.8,233.9 L409.3,235.5 L415.4,233.9 L421.4,235.5 L427.4,234.3 L431.5,236.9 L436.5,240.0 L440.5,238.0 L443.5,234.9 L440.5,230.9 L440.5,227.9 L445.5,224.9 L450.6,219.9 L456.0,218.8 L457.5,217.0 L458.6,220.9 L463.6,223.9 L466.6,225.9 L470.7,222.9 L476.7,223.9 L483.7,222.9 L489.8,220.9 L492.8,222.9 L497.8,225.9 L503.8,229.9 L505.9,228.9 L504.8,233.9 L508.9,238.0 L508.9,243.0 L511.9,247.0 L507.9,250.0 L509.9,255.0 L503.8,257.1 L497.8,258.1 L491.8,259.1 L483.7,260.1 L475.7,261.1 L469.7,260.1 L463.6,262.5 L460.6,261.7 L457.6,260.1 L451.6,260.1 L450.0,262.5 L452.6,267.1 L454.6,270.1 L456.6,274.1 L460.6,274.1 L463.6,276.2 L461.6,279.2 L457.6,282.2 L458.6,283.8 L460.6,287.8 L458.6,291.9 L459.6,296.9 L461.6,299.9 L462.0,305.9 L461.2,312.0 L457.6,314.0 L452.6,316.0 L451.6,320.0 L452.4,321.6 L454.8,324.3 L456.0,327.1 L454.2,329.8 L452.4,333.4 L453.3,337.1 L456.0,339.8 L457.8,343.4 L456.0,345.3 L451.5,344.9 L446.0,346.2 L439.7,348.0 L436.0,350.7 L434.2,352.5 L432.4,350.7 L427.8,348.5 L422.4,347.1 L416.9,345.3 L411.5,343.1 L406.9,340.7 L405.1,338.0 L401.5,337.1 L398.8,334.3 L393.3,334.0 L392.4,336.2 L394.2,338.0 L395.1,340.7 L392.4,343.4 L388.8,347.1 L382.7,346.2 L375.7,344.1 L369.7,345.2 L363.6,349.2 L357.6,350.2 L353.6,352.2 L348.5,355.2 L345.5,353.2 L344.5,348.2 L340.5,345.2 L335.5,344.1 L330.4,344.1 L326.4,341.1 L323.4,338.1 L319.4,337.1 L315.4,334.1 L313.8,328.1 L313.4,322.0 L314.4,317.0 L316.4,311.6 L320.4,311.0 L323.4,312.0 L327.4,315.0 L331.5,313.0 L333.5,310.0 L333.5,305.9 L336.5,303.5 L340.5,304.9 L343.5,306.9 L344.5,303.9 L346.5,297.9 L348.5,291.9 L351.2,285.8 L352.6,279.8 L353.3,277.8 L353.5,273.8 L354.6,270.1 L353.2,264.1 L354.6,260.1 L356.0,257.1 L352.6,253.0 L351.0,249.4 L357.6,247.0 L360.6,245.0 L363.6,240.0Z" fill="none" stroke="#4a3a10" stroke-opacity="0.2" stroke-width="0.4"/>
<rect x="300.4" y="210.8" width="220.5" height="163.5" fill="none" stroke="#555" stroke-width="0.7"/>
<line x1="331.1" y1="210.8" x2="331.1" y2="209.2" stroke="#555" stroke-width="0.6"/><text x="331.1" y="207.2" font-size="6.6" text-anchor="middle">114°0'E</text><line x1="473.1" y1="210.8" x2="473.1" y2="209.2" stroke="#555" stroke-width="0.6"/><text x="473.1" y="207.2" font-size="6.6" text-anchor="middle">115°0'E</text><line x1="326.7" y1="374.3" x2="326.7" y2="375.9" stroke="#555" stroke-width="0.6"/><text x="326.7" y="382.4" font-size="6.6" text-anchor="middle">114°0'E</text><line x1="469.7" y1="374.3" x2="469.7" y2="375.9" stroke="#555" stroke-width="0.6"/><text x="469.7" y="382.4" font-size="6.6" text-anchor="middle">115°0'E</text><line x1="300.4" y1="212.8" x2="298.8" y2="212.8" stroke="#555" stroke-width="0.6"/><text x="298.6" y="215.1" font-size="6.6" text-anchor="end">35°0'N</text><line x1="300.4" y1="356.3" x2="298.8" y2="356.3" stroke="#555" stroke-width="0.6"/><text x="298.6" y="358.6" font-size="6.6" text-anchor="end">34°10'N</text><line x1="520.9" y1="218.5" x2="522.5" y2="218.5" stroke="#555" stroke-width="0.6"/><text x="523.5" y="220.8" font-size="6.6">35°0'N</text><line x1="520.9" y1="361.8" x2="522.5" y2="361.8" stroke="#555" stroke-width="0.6"/><text x="523.5" y="364.1" font-size="6.6">34°10'N</text><text x="307.0" y="232.1" font-size="18.5">D</text>
<polygon points="331.90,263.60 331.90,260.19 338.33,257.17" fill="#000" stroke="#000" stroke-width="0.5"/><polygon points="331.90,263.60 335.31,263.60 338.33,257.17" fill="#ddd" stroke="#000" stroke-width="0.5"/><polygon points="331.90,263.60 335.31,263.60 338.33,270.03" fill="#000" stroke="#000" stroke-width="0.5"/><polygon points="331.90,263.60 331.90,267.01 338.33,270.03" fill="#ddd" stroke="#000" stroke-width="0.5"/><polygon points="331.90,263.60 331.90,267.01 325.47,270.03" fill="#000" stroke="#000" stroke-width="0.5"/><polygon points="331.90,263.60 328.49,263.60 325.47,270.03" fill="#ddd" stroke="#000" stroke-width="0.5"/><polygon points="331.90,263.60 328.49,263.60 325.47,257.17" fill="#000" stroke="#000" stroke-width="0.5"/><polygon points="331.90,263.60 331.90,260.19 325.47,257.17" fill="#ddd" stroke="#000" stroke-width="0.5"/><polygon points="331.90,263.60 329.89,261.59 331.90,249.68" fill="#000" stroke="#000" stroke-width="0.5"/><polygon points="331.90,263.60 333.91,261.59 331.90,249.68" fill="#ddd" stroke="#000" stroke-width="0.5"/><polygon points="331.90,263.60 333.91,261.59 345.82,263.60" fill="#000" stroke="#000" stroke-width="0.5"/><polygon points="331.90,263.60 333.91,265.61 345.82,263.60" fill="#ddd" stroke="#000" stroke-width="0.5"/><polygon points="331.90,263.60 333.91,265.61 331.90,277.52" fill="#000" stroke="#000" stroke-width="0.5"/><polygon points="331.90,263.60 329.89,265.61 331.90,277.52" fill="#ddd" stroke="#000" stroke-width="0.5"/><polygon points="331.90,263.60 329.89,265.61 317.98,263.60" fill="#000" stroke="#000" stroke-width="0.5"/><polygon points="331.90,263.60 329.89,261.59 317.98,263.60" fill="#ddd" stroke="#000" stroke-width="0.5"/><text x="331.9" y="248.8" font-size="3.4" text-anchor="middle">N</text><text x="331.9" y="280.8" font-size="3.4" text-anchor="middle">S</text><text x="315.9" y="264.7" font-size="3.4" text-anchor="middle">W</text><text x="347.7" y="264.7" font-size="3.4" text-anchor="middle">E</text>
<path d="M315.90,364.00 L315.90,360.90 L319.76,360.90 L319.76,364.00 L323.62,364.00 L323.62,360.90 L327.49,360.90 L327.49,364.00 L331.35,364.00 L331.35,360.90 L346.80,360.90 L346.80,364.00 L362.25,364.00 L362.25,360.90 L377.70,360.90 M377.70,360.90 L377.70,364.00" fill="none" stroke="#222" stroke-width="0.55"/><text x="315.9" y="369.6" font-size="5.4" text-anchor="middle">0</text><text x="323.6" y="369.6" font-size="5.4" text-anchor="middle">5</text><text x="331.3" y="369.6" font-size="5.4" text-anchor="middle">10</text><text x="346.8" y="369.6" font-size="5.4" text-anchor="middle">20</text><text x="362.2" y="369.6" font-size="5.4" text-anchor="middle">30</text><text x="377.7" y="369.6" font-size="5.4" text-anchor="middle">40</text><text x="378.8" y="364.2" font-size="5.8">KM</text>
<text x="471.3" y="296.7" font-size="7.1" font-weight="bold">2017.12.17 LST</text><rect x="471.6" y="302.9" width="9.5" height="4.7" fill="#fff" stroke="#ccc" stroke-width="0.5"/><text x="483.3" y="307.4" font-size="6.4">City scope</text><rect x="471.3" y="311.7" width="10.1" height="5.3" fill="#38A800"/><text x="483.3" y="316.6" font-size="6.4">Below 5°C</text><rect x="471.3" y="320.9" width="10.1" height="5.3" fill="#70C400"/><text x="483.3" y="325.7" font-size="6.4">5 - 6°C</text><rect x="471.3" y="330.1" width="10.1" height="5.3" fill="#ABDB00"/><text x="483.3" y="334.9" font-size="6.4">6 - 7°C</text><rect x="471.3" y="339.2" width="10.1" height="5.3" fill="#FFFF00"/><text x="483.3" y="344.1" font-size="6.4">7 - 8°C</text><rect x="471.3" y="348.4" width="10.1" height="5.3" fill="#FFAA00"/><text x="483.3" y="353.3" font-size="6.4">8 - 9°C</text><rect x="471.3" y="357.6" width="10.1" height="5.3" fill="#FF5500"/><text x="483.3" y="362.4" font-size="6.4">9 - 10°C</text><rect x="471.3" y="366.8" width="10.1" height="5.3" fill="#FF0000"/><text x="483.3" y="371.6" font-size="6.4">Above10°C</text>
</svg>
</body></html>
